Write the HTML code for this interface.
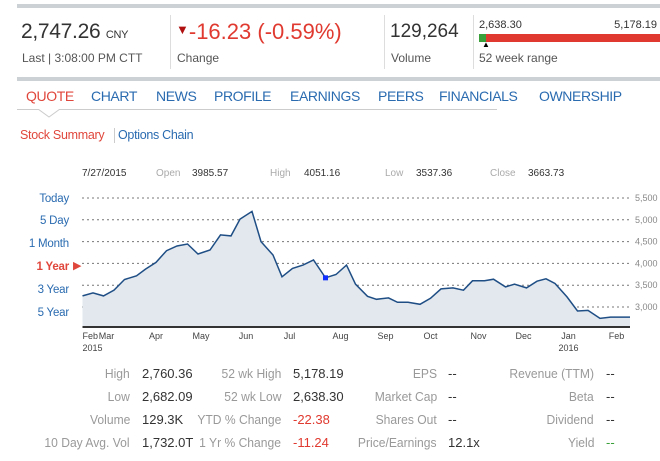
<!DOCTYPE html>
<html><head><meta charset="utf-8"><style>
body{margin:0;width:660px;height:461px;background:#fff;font-family:"Liberation Sans",sans-serif;position:relative;overflow:hidden}
.a{position:absolute;white-space:nowrap}
.lbl{color:#999;font-size:13px;transform:scaleX(0.93);transform-origin:right center}
.val{color:#333;font-size:13px}
.tab{color:#2a6bb0;font-size:14px;top:88px;letter-spacing:-0.4px}
.rb{color:#2a6bb0;font-size:11.5px;right:591px;letter-spacing:-0.2px}
</style></head><body>
<div class="a" style="left:17px;top:4px;width:643px;height:4px;background:#ccd1d6"></div>
<div class="a" style="left:21px;top:20px;font-size:21px;color:#333;letter-spacing:-0.3px">2,747.26 <span style="font-size:11px">CNY</span></div>
<div class="a" style="left:22px;top:51px;font-size:12px;color:#555">Last | 3:08:00 PM CTT</div>
<div class="a" style="left:170px;top:15px;width:1px;height:54px;background:#ddd"></div>
<div class="a" style="left:176px;top:19px;font-size:22px;color:#e03a30"><span style="font-size:13px;vertical-align:5px;color:#b01010">▼</span>-16.23 (-0.59%)</div>
<div class="a" style="left:177px;top:51px;font-size:12px;color:#555">Change</div>
<div class="a" style="left:384px;top:15px;width:1px;height:54px;background:#ddd"></div>
<div class="a" style="left:390px;top:21px;font-size:19px;color:#333">129,264</div>
<div class="a" style="left:391px;top:51px;font-size:12px;color:#555">Volume</div>
<div class="a" style="left:473px;top:15px;width:1px;height:54px;background:#ddd"></div>
<div class="a" style="left:479px;top:19px;font-size:11px;color:#333">2,638.30</div>
<div class="a" style="right:3px;top:19px;font-size:11px;color:#333">5,178.19</div>
<div class="a" style="left:486px;top:34px;width:174px;height:8px;background:#e03a30"></div>
<div class="a" style="left:479px;top:34px;width:7px;height:8px;background:#3aa03a"></div>
<div class="a" style="left:482px;top:40px;font-size:8px;color:#000">▲</div>
<div class="a" style="left:479px;top:51px;font-size:12px;color:#555">52 week range</div>
<div class="a" style="left:17px;top:77px;width:643px;height:4px;background:#ccd1d6"></div>
<div class="a tab" style="left:26px;color:#e0473c">QUOTE</div>
<div class="a tab" style="left:91px">CHART</div>
<div class="a tab" style="left:156px">NEWS</div>
<div class="a tab" style="left:214px">PROFILE</div>
<div class="a tab" style="left:290px">EARNINGS</div>
<div class="a tab" style="left:378px">PEERS</div>
<div class="a tab" style="left:439px">FINANCIALS</div>
<div class="a tab" style="left:539px">OWNERSHIP</div>
<div class="a" style="left:17px;top:109px;width:480px;height:1px;background:#ccc"></div>
<svg class="a" style="left:38px;top:109px" width="24" height="9"><polyline points="0,0 11,8 22,0" fill="#fff" stroke="#ccc"/></svg>
<div class="a" style="left:20px;top:128px;font-size:12.5px;color:#e0473c;letter-spacing:-0.3px">Stock Summary</div>
<div class="a" style="left:114px;top:128px;width:1px;height:15px;background:#ccc"></div>
<div class="a" style="left:118px;top:128px;font-size:12.5px;color:#2a6bb0;letter-spacing:-0.3px">Options Chain</div>
<div class="a" style="left:82px;top:168px;font-size:10px;color:#333">7/27/2015</div>
<div class="a" style="left:156px;top:168px;font-size:10px;color:#aaa">Open</div>
<div class="a" style="left:192px;top:168px;font-size:10px;color:#333">3985.57</div>
<div class="a" style="left:270px;top:168px;font-size:10px;color:#aaa">High</div>
<div class="a" style="left:304px;top:168px;font-size:10px;color:#333">4051.16</div>
<div class="a" style="left:385px;top:168px;font-size:10px;color:#aaa">Low</div>
<div class="a" style="left:416px;top:168px;font-size:10px;color:#333">3537.36</div>
<div class="a" style="left:490px;top:168px;font-size:10px;color:#aaa">Close</div>
<div class="a" style="left:528px;top:168px;font-size:10px;color:#333">3663.73</div>
<div class="a rb" style="top:193px">Today</div>
<div class="a rb" style="top:215px">5 Day</div>
<div class="a rb" style="top:238px">1 Month</div>
<div class="a rb" style="top:261px;color:#e0473c;font-weight:bold">1 Year</div>
<div class="a" style="left:73px;top:259px;font-size:11px;color:#e0473c">▶</div>
<div class="a rb" style="top:284px">3 Year</div>
<div class="a rb" style="top:307px">5 Year</div>
<svg class="a" style="left:0;top:0" width="660" height="461" id="chart"></svg>
<script>
const days=[0,7,14,21,28,36,42,49,56,63,70,77,85,92,99,105,113,119,127,133,140,147,154,162,169,176,182,190,196,204,210,217,225,232,239,247,254,260,268,274,282,288,296,303,309,315,323,330,337,345,352,365];
const prices=[3254,3323,3254,3385,3631,3715,3869,4023,4292,4400,4446,4215,4308,4654,4631,5015,5192,4500,4192,3692,3885,3962,4077,3669,3746,3962,3523,3246,3177,3208,3108,3108,3062,3200,3415,3438,3385,3600,3600,3638,3462,3523,3438,3592,3646,3538,3231,2908,2923,2738,2769,2769];
const yTicks=[3000,3500,4000,4500,5000,5500];
const yTickLabels=["3,000","3,500","4,000","4,500","5,000","5,500"];
const monthLabels=["Feb","Mar","Apr","May","Jun","Jul","Aug","Sep","Oct","Nov","Dec","Jan","Feb"];
const monthDays=[0,16,49,79,109,138,172,202,232,264,294,324,356];
const yearLabels=["2015","2016"];
const yearDays=[0,324];
const markerIndex=23;
const svg=document.getElementById('chart');
const NS='http://www.w3.org/2000/svg';
const X0=82.5,X1=630,Y3000=307,PX=21.8/500;
const x=d=>X0+(d-days[0])/(days[days.length-1]-days[0])*(X1-X0);
const y=v=>Y3000-(v-3000)*PX;
const BASE=327;
function mk(t,a){const e=document.createElementNS(NS,t);for(const k in a)e.setAttribute(k,a[k]);svg.appendChild(e);return e;}
yTicks.forEach((v,i)=>{
 const l=mk('line',{x1:82,x2:630,y1:y(v),y2:y(v),stroke:'#777','stroke-dasharray':'2,3','stroke-width':1});
 
 
 const t=mk('text',{x:635,y:y(v)+3,'font-size':9,fill:'#888','font-family':'Liberation Sans'});
 t.textContent=yTickLabels[i];
 
 
});
let d='M'+x(days[0])+','+BASE;
prices.forEach((p,i)=>d+=' L'+x(days[i]).toFixed(1)+','+y(p).toFixed(1));
d+=' L'+x(days[days.length-1])+','+BASE+'Z';
const area=mk('path',{d:d,fill:'#e2e8ee'});


const line=mk('polyline',{points:prices.map((p,i)=>x(days[i]).toFixed(1)+','+y(p).toFixed(1)).join(' '),fill:'none',stroke:'#1f4e85','stroke-width':1.5});


const ax=mk('line',{x1:X0,x2:X1,y1:BASE,y2:BASE,stroke:'#333','stroke-width':2});


const m=mk('rect',{x:x(days[markerIndex])-2.5,y:y(prices[markerIndex])-2.5,width:5,height:5,fill:'#1030ff'});


monthLabels.forEach((s,i)=>{
 const t=mk('text',{x:x(monthDays[i]),y:339,'font-size':9,fill:'#444','font-family':'Liberation Sans','text-anchor':i==0?'start':'middle'});
 t.textContent=s;
 
 
});
yearLabels.forEach((s,i)=>{
 const t=mk('text',{x:x(yearDays[i]),y:351,'font-size':9,fill:'#444','font-family':'Liberation Sans','text-anchor':i==0?'start':'middle'});
 t.textContent=s;
 
 
});
</script>
<div>
<div class="a lbl" style="right:530px;top:366px">High</div>
<div class="a val" style="left:142px;top:366px">2,760.36</div>
<div class="a lbl" style="right:530px;top:389px">Low</div>
<div class="a val" style="left:142px;top:389px">2,682.09</div>
<div class="a lbl" style="right:530px;top:412px">Volume</div>
<div class="a val" style="left:142px;top:412px">129.3K</div>
<div class="a lbl" style="right:530px;top:435px">10 Day Avg. Vol</div>
<div class="a val" style="left:142px;top:435px">1,732.0T</div>
<div class="a lbl" style="right:379px;top:366px">52 wk High</div>
<div class="a val" style="left:293px;top:366px">5,178.19</div>
<div class="a lbl" style="right:379px;top:389px">52 wk Low</div>
<div class="a val" style="left:293px;top:389px">2,638.30</div>
<div class="a lbl" style="right:379px;top:412px">YTD % Change</div>
<div class="a val" style="left:293px;top:412px;color:#e03a30">-22.38</div>
<div class="a lbl" style="right:379px;top:435px">1 Yr % Change</div>
<div class="a val" style="left:293px;top:435px;color:#e03a30">-11.24</div>
<div class="a lbl" style="right:223px;top:366px">EPS</div>
<div class="a val" style="left:448px;top:366px">--</div>
<div class="a lbl" style="right:223px;top:389px">Market Cap</div>
<div class="a val" style="left:448px;top:389px">--</div>
<div class="a lbl" style="right:223px;top:412px">Shares Out</div>
<div class="a val" style="left:448px;top:412px">--</div>
<div class="a lbl" style="right:223px;top:435px">Price/Earnings</div>
<div class="a val" style="left:448px;top:435px">12.1x</div>
<div class="a lbl" style="right:66px;top:366px">Revenue (TTM)</div>
<div class="a val" style="left:606px;top:366px">--</div>
<div class="a lbl" style="right:66px;top:389px">Beta</div>
<div class="a val" style="left:606px;top:389px">--</div>
<div class="a lbl" style="right:66px;top:412px">Dividend</div>
<div class="a val" style="left:606px;top:412px">--</div>
<div class="a lbl" style="right:66px;top:435px">Yield</div>
<div class="a val" style="left:606px;top:435px;color:#3aa03a">--</div>
</div>
</body></html>
